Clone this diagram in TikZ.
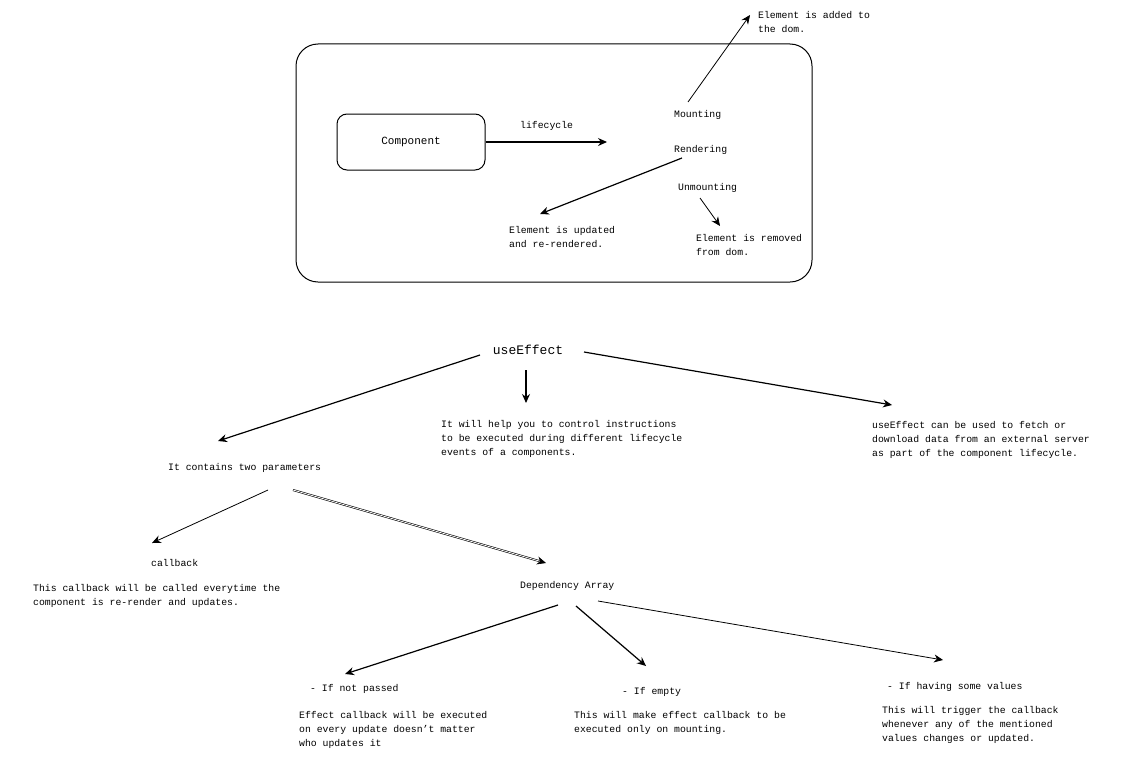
\documentclass[tikz,border=0pt]{standalone}
\usepackage{fontspec}
\setmainfont{Liberation Mono}
\usetikzlibrary{arrows.meta}
\begin{document}
\begin{tikzpicture}[x=1pt,y=-1pt,
 txt/.style={font=\fontsize{9.8}{14}\selectfont,align=left,inner sep=0pt},
 arr/.style={-{Stealth[length=9pt,width=8pt]},line width=1.2pt},
 thin arr/.style={-{Stealth[length=9pt,width=8pt]},line width=0.8pt}]
\useasboundingbox (0,0) rectangle (1147,760);
\draw[line width=1pt,rounded corners=22] (296,44) rectangle (812,282);
\node[draw,line width=1pt,rounded corners=10,minimum width=148,minimum height=56,font=\fontsize{11}{13}\selectfont] (comp) at (411,142) {Component};
\node[txt,anchor=west] (lc) at (520,126) {lifecycle};
\coordinate (lcend) at (607,142);
\draw[arr] (comp.east) -- (lcend);
\node[txt,anchor=west] (mnt) at (674,115) {Mounting};
\node[txt,anchor=west] (rnd) at (674,150) {Rendering};
\node[txt,anchor=west] (unm) at (678,188) {Unmounting};
\node[txt,anchor=north west] (add) at (758,11) {Element is added to\\the dom.};
\node[txt,anchor=north west] (upd) at (509,226) {Element is updated\\and re-rendered.};
\node[txt,anchor=north west] (rem) at (696,234) {Element is removed\\from dom.};
\draw[thin arr] (688,102) -- (750,15);
\draw[arr] (682,158) -- (540,214);
\draw[thin arr] (700,198) -- (720,226);

\node[font=\fontsize{13}{15}\selectfont] (ue) at (528,350) {useEffect};
\node[txt,anchor=west] (two) at (168,468) {It contains two parameters};
\node[txt,anchor=north west] (help) at (441,420) {It will help you to control instructions\\to be executed during different lifecycle\\events of a components.};
\node[txt,anchor=north west] (fetch) at (872,421) {useEffect can be used to fetch or\\download data from an external server\\as part of the component lifecycle.};
\draw[arr] (480,355) -- (218,441);
\draw[arr] (526,370) -- (526,403);
\draw[arr] (584,352) -- (892,405);

\node[txt,anchor=west] (cb) at (151,563) {callback};
\node[txt,anchor=north west] (cbd) at (33,584) {This callback will be called everytime the\\component is re-render and updates.};
\node[txt,anchor=west] (dep) at (520,586) {Dependency Array};
\draw[thin arr] (268,490) -- (152,543);
\draw[arr,double,double distance=0.8pt,line width=0.6pt] (293,490) -- (546,563);

\node[txt,anchor=west] (np) at (310,689) {- If not passed};
\node[txt,anchor=north west] (npd) at (299,711) {Effect callback will be executed\\on every update doesn't matter\\who updates it};
\node[txt,anchor=west] (em) at (622,692) {- If empty};
\node[txt,anchor=north west] (emd) at (574,711) {This will make effect callback to be\\executed only on mounting.};
\node[txt,anchor=west] (sv) at (887,687) {- If having some values};
\node[txt,anchor=north west] (svd) at (882,706) {This will trigger the callback\\whenever any of the mentioned\\values changes or updated.};
\draw[arr] (558,605) -- (345,674);
\draw[arr] (576,606) -- (646,666);
\draw[thin arr] (598,601) -- (943,660);
\end{tikzpicture}
\end{document}
